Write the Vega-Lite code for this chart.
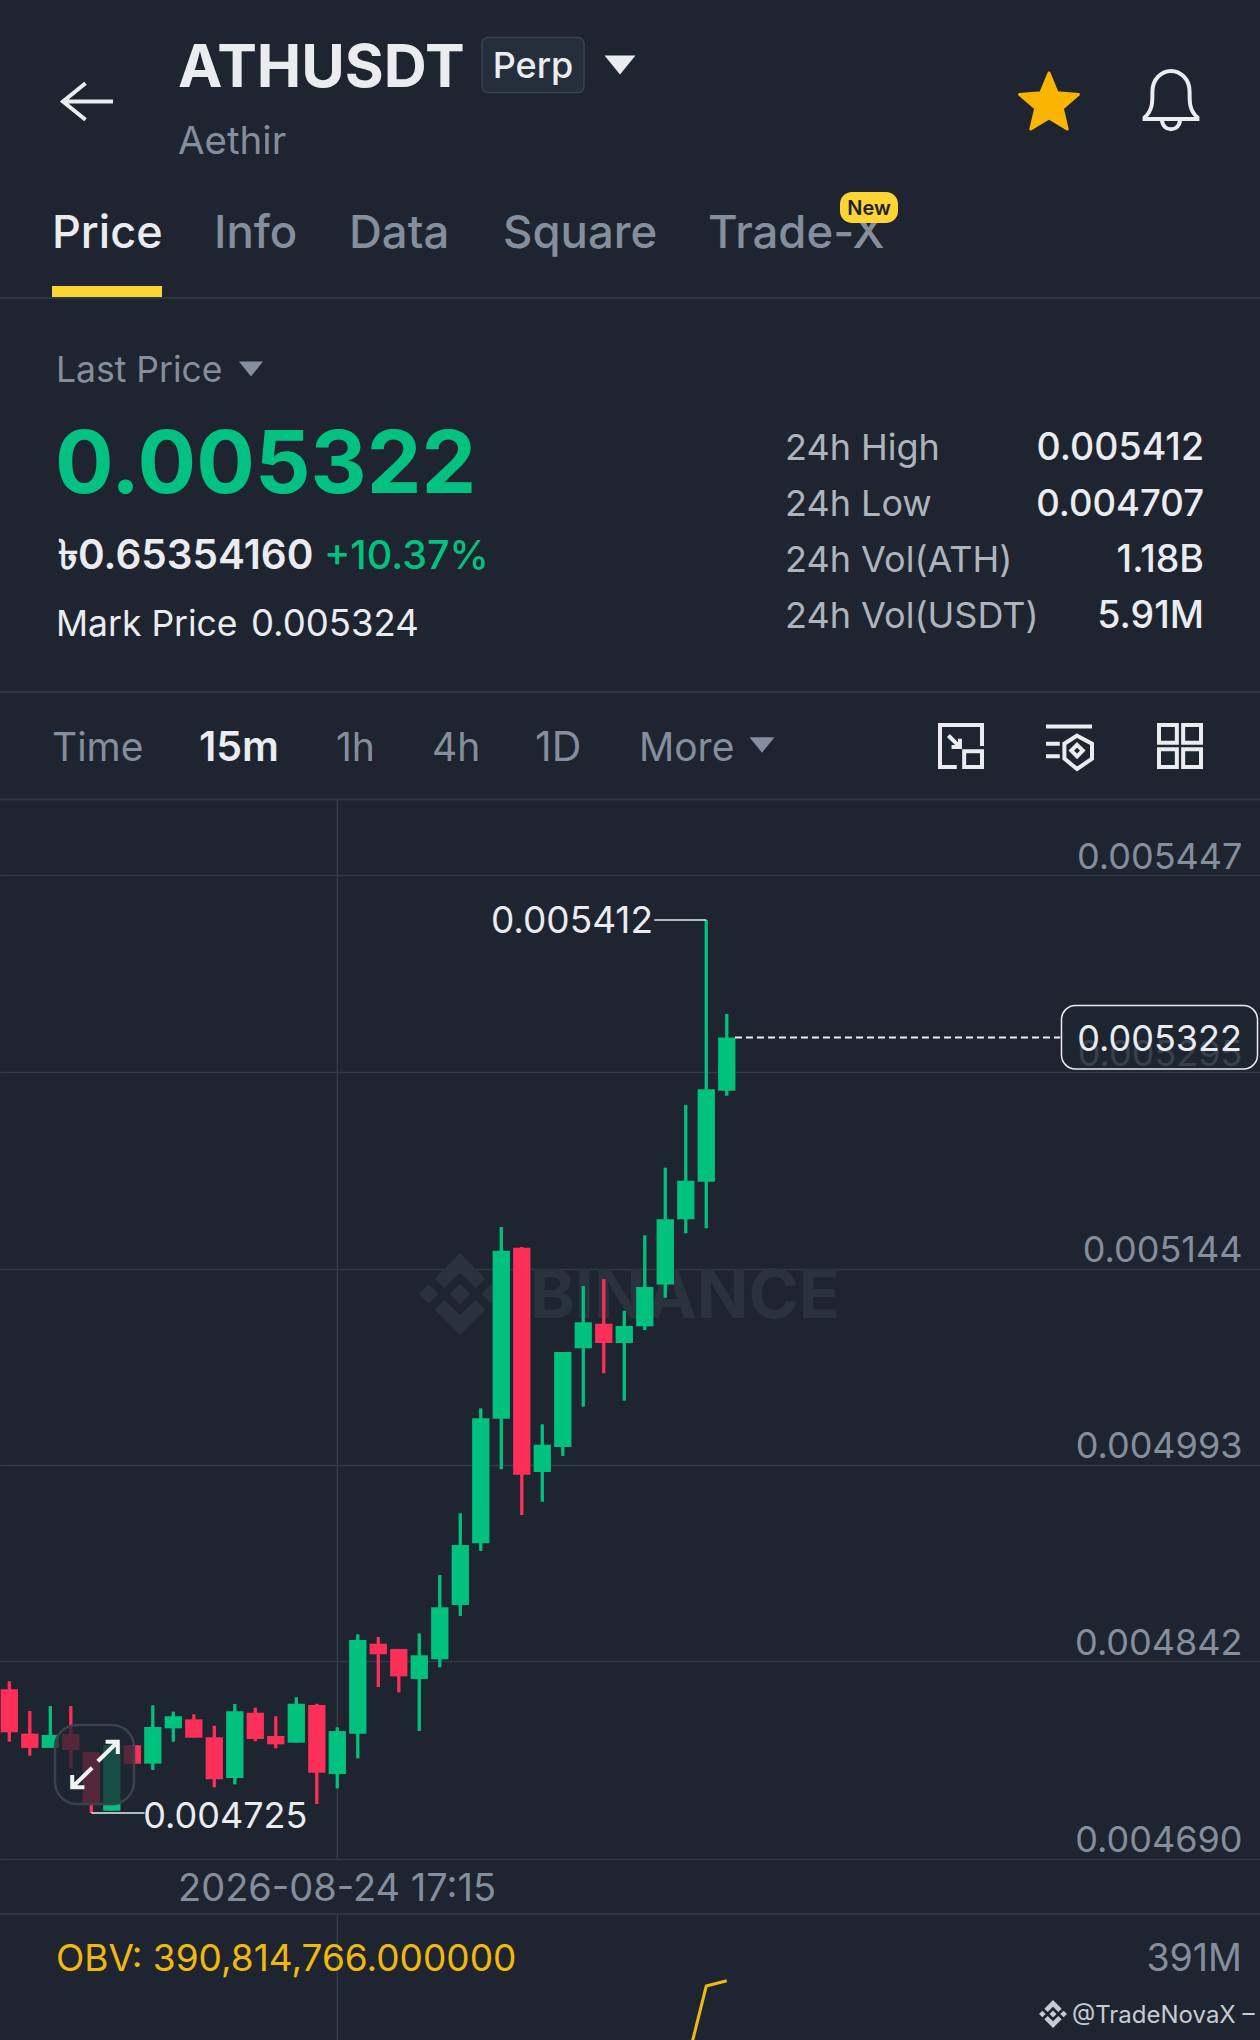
{"$schema":"https://vega.github.io/schema/vega-lite/v6.json","width":1260,"height":2040,"padding":0,"autosize":{"type":"none"},"background":"#1E2530","config":{"view":{"stroke":null}},"datasets":{"candles":[
{"t":"2026-08-24T13:15:00","open":0.0048202,"high":0.0048264,"low":0.0047799,"close":0.0047871,"dir":"down"},
{"t":"2026-08-24T13:30:00","open":0.0047861,"high":0.0048035,"low":0.0047691,"close":0.0047751,"dir":"down"},
{"t":"2026-08-24T13:45:00","open":0.0047751,"high":0.0048074,"low":0.0047751,"close":0.0047851,"dir":"up"},
{"t":"2026-08-24T14:00:00","open":0.0047858,"high":0.0048074,"low":0.0047597,"close":0.0047735,"dir":"down"},
{"t":"2026-08-24T14:15:00","open":0.004772,"high":0.004772,"low":0.004725,"close":0.0047319,"dir":"down"},
{"t":"2026-08-24T14:30:00","open":0.0047268,"high":0.0047804,"low":0.0047268,"close":0.0047774,"dir":"up"},
{"t":"2026-08-24T14:45:00","open":0.0047771,"high":0.0047771,"low":0.004763,"close":0.004763,"dir":"down"},
{"t":"2026-08-24T15:00:00","open":0.004763,"high":0.0048079,"low":0.0047581,"close":0.0047912,"dir":"up"},
{"t":"2026-08-24T15:15:00","open":0.0047902,"high":0.004803,"low":0.0047799,"close":0.0047995,"dir":"up"},
{"t":"2026-08-24T15:30:00","open":0.0047971,"high":0.004801,"low":0.004783,"close":0.004783,"dir":"down"},
{"t":"2026-08-24T15:45:00","open":0.0047833,"high":0.0047922,"low":0.0047448,"close":0.004751,"dir":"down"},
{"t":"2026-08-24T16:00:00","open":0.004752,"high":0.0048089,"low":0.0047471,"close":0.0048033,"dir":"up"},
{"t":"2026-08-24T16:15:00","open":0.0048022,"high":0.0048061,"low":0.0047802,"close":0.004782,"dir":"down"},
{"t":"2026-08-24T16:30:00","open":0.0047843,"high":0.0047995,"low":0.0047748,"close":0.0047779,"dir":"down"},
{"t":"2026-08-24T16:45:00","open":0.0047791,"high":0.0048141,"low":0.0047791,"close":0.0048091,"dir":"up"},
{"t":"2026-08-24T17:00:00","open":0.0048081,"high":0.0048091,"low":0.0047319,"close":0.004756,"dir":"down"},
{"t":"2026-08-24T17:15:00","open":0.004755,"high":0.004791,"low":0.004744,"close":0.0047881,"dir":"up"},
{"t":"2026-08-24T17:30:00","open":0.0047861,"high":0.0048626,"low":0.0047671,"close":0.0048582,"dir":"up"},
{"t":"2026-08-24T17:45:00","open":0.0048553,"high":0.0048605,"low":0.004822,"close":0.0048472,"dir":"down"},
{"t":"2026-08-24T18:00:00","open":0.0048513,"high":0.0048513,"low":0.0048179,"close":0.0048302,"dir":"down"},
{"t":"2026-08-24T18:15:00","open":0.0048282,"high":0.0048633,"low":0.0047881,"close":0.0048464,"dir":"up"},
{"t":"2026-08-24T18:30:00","open":0.0048433,"high":0.0049082,"low":0.0048372,"close":0.0048833,"dir":"up"},
{"t":"2026-08-24T18:45:00","open":0.0048851,"high":0.0049557,"low":0.0048767,"close":0.0049313,"dir":"up"},
{"t":"2026-08-24T19:00:00","open":0.0049326,"high":0.0050365,"low":0.0049267,"close":0.0050288,"dir":"up"},
{"t":"2026-08-24T19:15:00","open":0.0050285,"high":0.0051761,"low":0.0049896,"close":0.0051578,"dir":"up"},
{"t":"2026-08-24T19:30:00","open":0.0051601,"high":0.0051607,"low":0.0049544,"close":0.0049854,"dir":"down"},
{"t":"2026-08-24T19:45:00","open":0.0049875,"high":0.0050242,"low":0.0049646,"close":0.0050085,"dir":"up"},
{"t":"2026-08-24T20:00:00","open":0.0050067,"high":0.0050799,"low":0.0049998,"close":0.0050799,"dir":"up"},
{"t":"2026-08-24T20:15:00","open":0.0050827,"high":0.0051306,"low":0.0050377,"close":0.0051027,"dir":"up"},
{"t":"2026-08-24T20:30:00","open":0.0051016,"high":0.005136,"low":0.0050635,"close":0.0050868,"dir":"down"},
{"t":"2026-08-24T20:45:00","open":0.0050868,"high":0.0051116,"low":0.0050424,"close":0.0050999,"dir":"up"},
{"t":"2026-08-24T21:00:00","open":0.0050996,"high":0.0051697,"low":0.0050968,"close":0.0051299,"dir":"up"},
{"t":"2026-08-24T21:15:00","open":0.0051318,"high":0.0052217,"low":0.0051216,"close":0.005182,"dir":"up"},
{"t":"2026-08-24T21:30:00","open":0.005182,"high":0.00527,"low":0.0051712,"close":0.0052117,"dir":"up"},
{"t":"2026-08-24T21:45:00","open":0.0052109,"high":0.0054124,"low":0.0051751,"close":0.0052821,"dir":"up"},
{"t":"2026-08-24T22:00:00","open":0.005281,"high":0.00534,"low":0.0052771,"close":0.005322,"dir":"up"}
]},"layer":[
{"layer":[
{"data":{"values":[{"part":"watermark"}]},"mark":{"type":"point","shape":"M0 -0.25 L0.25 0 L0 0.25 L-0.25 0Z M0 -1 L0.62 -0.38 L0.38 -0.14 L0 -0.52 L-0.38 -0.14 L-0.62 -0.38Z M0 1 L0.62 0.38 L0.38 0.14 L0 0.52 L-0.38 0.14 L-0.62 0.38Z M-1 0 L-0.76 -0.24 L-0.52 0 L-0.76 0.24Z M1 0 L0.76 -0.24 L0.52 0 L0.76 0.24Z","size":6724,"filled":true,"color":"#2A323E","opacity":1},"encoding":{"x":{"datum":460,"type":"quantitative","scale":{"domain":[0,1260],"nice":false,"zero":false},"axis":null},"y":{"datum":1294,"type":"quantitative","scale":{"domain":[0,2040],"reverse":true,"nice":false,"zero":false},"axis":null}}},
{"data":{"values":[{"label":"BINANCE"}]},"mark":{"type":"text","font":"Inter","fontSize":68,"fontWeight":700,"color":"#2A323E","align":"left","baseline":"alphabetic"},"encoding":{"x":{"datum":530,"type":"quantitative","scale":{"domain":[0,1260],"nice":false,"zero":false},"axis":null},"y":{"datum":1318,"type":"quantitative","scale":{"domain":[0,2040],"reverse":true,"nice":false,"zero":false},"axis":null},"text":{"field":"label"}}},
{"data":{"values":[{"part":"divider"}]},"mark":{"type":"rule","color":"#2E3643","strokeWidth":2},"encoding":{"x":{"datum":0,"type":"quantitative","scale":{"domain":[0,1260],"nice":false,"zero":false},"axis":null},"x2":{"datum":1260},"y":{"datum":298,"type":"quantitative","scale":{"domain":[0,2040],"reverse":true,"nice":false,"zero":false},"axis":null}}},
{"data":{"values":[{"part":"divider"}]},"mark":{"type":"rule","color":"#2E3643","strokeWidth":2},"encoding":{"x":{"datum":0,"type":"quantitative","scale":{"domain":[0,1260],"nice":false,"zero":false},"axis":null},"x2":{"datum":1260},"y":{"datum":692,"type":"quantitative","scale":{"domain":[0,2040],"reverse":true,"nice":false,"zero":false},"axis":null}}},
{"data":{"values":[{"part":"divider"}]},"mark":{"type":"rule","color":"#2E3643","strokeWidth":2},"encoding":{"x":{"datum":0,"type":"quantitative","scale":{"domain":[0,1260],"nice":false,"zero":false},"axis":null},"x2":{"datum":1260},"y":{"datum":799.5,"type":"quantitative","scale":{"domain":[0,2040],"reverse":true,"nice":false,"zero":false},"axis":null}}},
{"data":{"values":[{"part":"divider"}]},"mark":{"type":"rule","color":"#2E3643","strokeWidth":2},"encoding":{"x":{"datum":0,"type":"quantitative","scale":{"domain":[0,1260],"nice":false,"zero":false},"axis":null},"x2":{"datum":1260},"y":{"datum":1914,"type":"quantitative","scale":{"domain":[0,2040],"reverse":true,"nice":false,"zero":false},"axis":null}}},
{"data":{"values":[{"part":"divider"}]},"mark":{"type":"rule","color":"#333A46","strokeWidth":1.5},"encoding":{"x":{"datum":337.3,"type":"quantitative","scale":{"domain":[0,1260],"nice":false,"zero":false},"axis":null},"y":{"datum":1915,"type":"quantitative","scale":{"domain":[0,2040],"reverse":true,"nice":false,"zero":false},"axis":null},"y2":{"datum":2040}}}
]},
{"layer":[
{"data":{"values":[{"t":"2026-08-24T17:15:00","p0":0.00469,"p1":0.005505}],"format":{"parse":{"t":"date"}}},"mark":{"type":"rule","color":"#333A46","strokeWidth":1.5},"encoding":{"x":{"field":"t","type":"temporal","title":null,"axis":null,"scale":{"domain":["2026-08-24T13:08:11","2026-08-25T04:30:12"],"nice":false,"padding":0}},"y":{"field":"p0","type":"quantitative","title":null,"scale":{"domain":[0.00469,0.005447],"range":[1858.5,875],"nice":false,"zero":false},"axis":{"orient":"right","values":[0.005447,0.005295,0.005144,0.004993,0.004842,0.00469],"format":".6f","domain":false,"ticks":false,"grid":true,"gridColor":"#333A46","gridWidth":1.5,"labelFont":"Inter","labelFontSize":36,"labelColor":"#848E9C","labelAlign":"right","labelBaseline":"alphabetic","labelPadding":-18,"labelOffset":-7,"labelOverlap":false,"labelFlush":false,"title":null}},"y2":{"field":"p1"}}},
{"data":{"name":"candles"},"mark":{"type":"rule","strokeWidth":3.3},"encoding":{"x":{"field":"t","type":"temporal","axis":null,"title":null},"y":{"field":"low","type":"quantitative","title":null},"y2":{"field":"high"},"color":{"field":"dir","type":"nominal","scale":{"domain":["up","down"],"range":["#01C17F","#FB2F58"]},"legend":null}}},
{"data":{"name":"candles"},"mark":{"type":"bar","size":17.3},"encoding":{"x":{"field":"t","type":"temporal","axis":null,"title":null,"scale":{"padding":0}},"y":{"field":"open","type":"quantitative","title":null},"y2":{"field":"close"},"color":{"field":"dir","type":"nominal","legend":null}}},
{"data":{"values":[{"t":"2026-08-24T21:45:00","t1":"2026-08-24T21:07:00","p":0.0054124}],"format":{"parse":{"t":"date","t1":"date"}}},"mark":{"type":"rule","color":"#EAECEF","strokeWidth":1.5},"encoding":{"x":{"field":"t","type":"temporal","axis":null,"title":null},"x2":{"field":"t1"},"y":{"field":"p","type":"quantitative","title":null}}},
{"data":{"values":[{"t":"2026-08-24T21:06:00","p":0.0054124,"label":"0.005412"}],"format":{"parse":{"t":"date"}}},"mark":{"type":"text","font":"Inter","fontSize":37,"color":"#EAECEF","align":"right","baseline":"middle","dy":2},"encoding":{"x":{"field":"t","type":"temporal","axis":null,"title":null},"y":{"field":"p","type":"quantitative","title":null},"text":{"field":"label"}}},
{"data":{"values":[{"t":"2026-08-24T14:15:00","t1":"2026-08-24T14:54:00","p":0.004725}],"format":{"parse":{"t":"date","t1":"date"}}},"mark":{"type":"rule","color":"#EAECEF","strokeWidth":1.5},"encoding":{"x":{"field":"t","type":"temporal","axis":null,"title":null},"x2":{"field":"t1"},"y":{"field":"p","type":"quantitative","title":null}}},
{"data":{"values":[{"t":"2026-08-24T14:53:00","p":0.004725,"label":"0.004725"}],"format":{"parse":{"t":"date"}}},"mark":{"type":"text","font":"Inter","fontSize":36,"color":"#EAECEF","align":"left","baseline":"middle","dy":4},"encoding":{"x":{"field":"t","type":"temporal","axis":null,"title":null},"y":{"field":"p","type":"quantitative","title":null},"text":{"field":"label"}}},
{"data":{"values":[{"t":"2026-08-24T22:06:00","t1":"2026-08-25T02:04:00","p":0.005322}],"format":{"parse":{"t":"date","t1":"date"}}},"mark":{"type":"rule","color":"#EAECEF","strokeWidth":2,"strokeDash":[7,4]},"encoding":{"x":{"field":"t","type":"temporal","axis":null,"title":null},"x2":{"field":"t1"},"y":{"field":"p","type":"quantitative","title":null}}}
]},
{"data":{"values":[{"t":"2026-08-24T21:30:00","obv":303500000},{"t":"2026-08-24T21:45:00","obv":385500000},{"t":"2026-08-24T22:00:00","obv":390814766}]},"mark":{"type":"line","color":"#F0B90B","strokeWidth":3,"clip":false},"encoding":{"x":{"field":"t","type":"temporal","axis":null,"title":null,"scale":{"domain":["2026-08-24T13:08:11","2026-08-25T04:30:12"],"nice":false}},"y":{"field":"obv","type":"quantitative","axis":null,"title":null,"scale":{"domain":[303500000,390814766],"range":[2068,1980.7],"nice":false,"zero":false}}}},
{"layer":[
{"data":{"values":[{"part":"expand button"}]},"mark":{"type":"rect","fill":"#1E2530","fillOpacity":0.75,"stroke":"#3A424E","strokeWidth":2.5,"cornerRadius":22},"encoding":{"x":{"datum":55,"type":"quantitative","scale":{"domain":[0,1260],"nice":false,"zero":false},"axis":null},"x2":{"datum":134},"y":{"datum":1725,"type":"quantitative","scale":{"domain":[0,2040],"reverse":true,"nice":false,"zero":false},"axis":null},"y2":{"datum":1804}}},
{"data":{"values":[{"part":"expand arrows"}]},"mark":{"type":"point","shape":"M0.12 -0.14 L0.97 -0.97 M0.45 -0.97 L0.97 -0.97 L0.97 -0.45 M-0.12 0.14 L-0.97 0.97 M-0.45 0.97 L-0.97 0.97 L-0.97 0.45","size":2209,"filled":false,"stroke":"#F2F3F5","strokeWidth":4,"opacity":1},"encoding":{"x":{"datum":95,"type":"quantitative","scale":{"domain":[0,1260],"nice":false,"zero":false},"axis":null},"y":{"datum":1764.5,"type":"quantitative","scale":{"domain":[0,2040],"reverse":true,"nice":false,"zero":false},"axis":null}}},
{"data":{"values":[{"part":"pill"}]},"mark":{"type":"rect","fill":"#1E2530","fillOpacity":0.75,"stroke":"#EAECEF","strokeWidth":1.5,"cornerRadius":14},"encoding":{"x":{"datum":1061.5,"type":"quantitative","scale":{"domain":[0,1260],"nice":false,"zero":false},"axis":null},"x2":{"datum":1257.5},"y":{"datum":1005.5,"type":"quantitative","scale":{"domain":[0,2040],"reverse":true,"nice":false,"zero":false},"axis":null},"y2":{"datum":1069}}},
{"data":{"values":[{"label":"0.005322"}]},"mark":{"type":"text","font":"Inter","fontSize":36,"color":"#EAECEF","align":"right","baseline":"alphabetic"},"encoding":{"x":{"datum":1242,"type":"quantitative","scale":{"domain":[0,1260],"nice":false,"zero":false},"axis":null},"y":{"datum":1051,"type":"quantitative","scale":{"domain":[0,2040],"reverse":true,"nice":false,"zero":false},"axis":null},"text":{"field":"label"}}},
{"data":{"values":[{"part":"back"}]},"mark":{"type":"point","shape":"M1 0 L-1 0 M-0.1 -0.73 L-1 0 L-0.1 0.73","size":2500,"filled":false,"stroke":"#EAECEF","strokeWidth":4,"opacity":1},"encoding":{"x":{"datum":88,"type":"quantitative","scale":{"domain":[0,1260],"nice":false,"zero":false},"axis":null},"y":{"datum":101.5,"type":"quantitative","scale":{"domain":[0,2040],"reverse":true,"nice":false,"zero":false},"axis":null}}},
{"data":{"values":[{"label":"ATHUSDT"}]},"mark":{"type":"text","font":"Inter","fontSize":59.5,"fontWeight":700,"color":"#EAECEF","align":"left","baseline":"alphabetic"},"encoding":{"x":{"datum":178,"type":"quantitative","scale":{"domain":[0,1260],"nice":false,"zero":false},"axis":null},"y":{"datum":87,"type":"quantitative","scale":{"domain":[0,2040],"reverse":true,"nice":false,"zero":false},"axis":null},"text":{"field":"label"}}},
{"data":{"values":[{"part":"badge"}]},"mark":{"type":"rect","fill":"#252E3B","stroke":"#39424F","strokeWidth":1.5,"cornerRadius":6},"encoding":{"x":{"datum":482,"type":"quantitative","scale":{"domain":[0,1260],"nice":false,"zero":false},"axis":null},"x2":{"datum":584},"y":{"datum":37.5,"type":"quantitative","scale":{"domain":[0,2040],"reverse":true,"nice":false,"zero":false},"axis":null},"y2":{"datum":92.5}}},
{"data":{"values":[{"label":"Perp"}]},"mark":{"type":"text","font":"Inter","fontSize":36,"fontWeight":500,"color":"#EAECEF","align":"center","baseline":"alphabetic"},"encoding":{"x":{"datum":533,"type":"quantitative","scale":{"domain":[0,1260],"nice":false,"zero":false},"axis":null},"y":{"datum":78,"type":"quantitative","scale":{"domain":[0,2040],"reverse":true,"nice":false,"zero":false},"axis":null},"text":{"field":"label"}}},
{"data":{"values":[{"part":"caret"}]},"mark":{"type":"point","shape":"M-1 -0.62 L1 -0.62 L0 0.62Z","size":961,"filled":true,"color":"#EAECEF","opacity":1},"encoding":{"x":{"datum":620,"type":"quantitative","scale":{"domain":[0,1260],"nice":false,"zero":false},"axis":null},"y":{"datum":65,"type":"quantitative","scale":{"domain":[0,2040],"reverse":true,"nice":false,"zero":false},"axis":null}}},
{"data":{"values":[{"label":"Aethir"}]},"mark":{"type":"text","font":"Inter","fontSize":38.5,"color":"#848E9C","align":"left","baseline":"alphabetic"},"encoding":{"x":{"datum":178,"type":"quantitative","scale":{"domain":[0,1260],"nice":false,"zero":false},"axis":null},"y":{"datum":154,"type":"quantitative","scale":{"domain":[0,2040],"reverse":true,"nice":false,"zero":false},"axis":null},"text":{"field":"label"}}},
{"data":{"values":[{"part":"star"}]},"mark":{"type":"point","shape":"M0 -1 L0.265 -0.364 L0.951 -0.309 L0.428 0.139 L0.588 0.809 L0 0.45 L-0.588 0.809 L-0.428 0.139 L-0.951 -0.309 L-0.265 -0.364Z","size":3844,"filled":true,"fill":"#FBB500","stroke":"#FBB500","strokeWidth":3,"strokeJoin":"round","opacity":1},"encoding":{"x":{"datum":1049,"type":"quantitative","scale":{"domain":[0,1260],"nice":false,"zero":false},"axis":null},"y":{"datum":104,"type":"quantitative","scale":{"domain":[0,2040],"reverse":true,"nice":false,"zero":false},"axis":null}}},
{"data":{"values":[{"part":"bell"}]},"mark":{"type":"point","shape":"M-0.88 0.55 C-0.6 0.3 -0.62 0 -0.62 -0.3 C-0.62 -0.75 -0.3 -1 0 -1 C0.3 -1 0.62 -0.75 0.62 -0.3 C0.62 0 0.6 0.3 0.88 0.55 L0.88 0.6 L-0.88 0.6Z M-0.3 0.62 C-0.3 1.05 0.3 1.05 0.3 0.62","size":3600,"filled":false,"stroke":"#EAECEF","strokeWidth":4,"opacity":1},"encoding":{"x":{"datum":1171,"type":"quantitative","scale":{"domain":[0,1260],"nice":false,"zero":false},"axis":null},"y":{"datum":101,"type":"quantitative","scale":{"domain":[0,2040],"reverse":true,"nice":false,"zero":false},"axis":null}}},
{"data":{"values":[{"label":"Price"}]},"mark":{"type":"text","font":"Inter","fontSize":45,"fontWeight":500,"color":"#EAECEF","align":"left","baseline":"alphabetic"},"encoding":{"x":{"datum":52,"type":"quantitative","scale":{"domain":[0,1260],"nice":false,"zero":false},"axis":null},"y":{"datum":248,"type":"quantitative","scale":{"domain":[0,2040],"reverse":true,"nice":false,"zero":false},"axis":null},"text":{"field":"label"}}},
{"data":{"values":[{"label":"Info"}]},"mark":{"type":"text","font":"Inter","fontSize":45.5,"fontWeight":500,"color":"#848E9C","align":"left","baseline":"alphabetic"},"encoding":{"x":{"datum":214,"type":"quantitative","scale":{"domain":[0,1260],"nice":false,"zero":false},"axis":null},"y":{"datum":248,"type":"quantitative","scale":{"domain":[0,2040],"reverse":true,"nice":false,"zero":false},"axis":null},"text":{"field":"label"}}},
{"data":{"values":[{"label":"Data"}]},"mark":{"type":"text","font":"Inter","fontSize":45.5,"fontWeight":500,"color":"#848E9C","align":"left","baseline":"alphabetic"},"encoding":{"x":{"datum":349,"type":"quantitative","scale":{"domain":[0,1260],"nice":false,"zero":false},"axis":null},"y":{"datum":248,"type":"quantitative","scale":{"domain":[0,2040],"reverse":true,"nice":false,"zero":false},"axis":null},"text":{"field":"label"}}},
{"data":{"values":[{"label":"Square"}]},"mark":{"type":"text","font":"Inter","fontSize":45.5,"fontWeight":500,"color":"#848E9C","align":"left","baseline":"alphabetic"},"encoding":{"x":{"datum":503,"type":"quantitative","scale":{"domain":[0,1260],"nice":false,"zero":false},"axis":null},"y":{"datum":248,"type":"quantitative","scale":{"domain":[0,2040],"reverse":true,"nice":false,"zero":false},"axis":null},"text":{"field":"label"}}},
{"data":{"values":[{"label":"Trade-X"}]},"mark":{"type":"text","font":"Inter","fontSize":45.5,"fontWeight":500,"color":"#848E9C","align":"left","baseline":"alphabetic"},"encoding":{"x":{"datum":708,"type":"quantitative","scale":{"domain":[0,1260],"nice":false,"zero":false},"axis":null},"y":{"datum":248,"type":"quantitative","scale":{"domain":[0,2040],"reverse":true,"nice":false,"zero":false},"axis":null},"text":{"field":"label"}}},
{"data":{"values":[{"part":"new badge"}]},"mark":{"type":"rect","fill":"#FCD535","cornerRadius":12},"encoding":{"x":{"datum":840,"type":"quantitative","scale":{"domain":[0,1260],"nice":false,"zero":false},"axis":null},"x2":{"datum":898},"y":{"datum":192,"type":"quantitative","scale":{"domain":[0,2040],"reverse":true,"nice":false,"zero":false},"axis":null},"y2":{"datum":223}}},
{"data":{"values":[{"label":"New"}]},"mark":{"type":"text","font":"Inter","fontSize":20,"fontWeight":600,"color":"#1E2329","align":"center","baseline":"alphabetic"},"encoding":{"x":{"datum":869,"type":"quantitative","scale":{"domain":[0,1260],"nice":false,"zero":false},"axis":null},"y":{"datum":215,"type":"quantitative","scale":{"domain":[0,2040],"reverse":true,"nice":false,"zero":false},"axis":null},"text":{"field":"label"}}},
{"data":{"values":[{"part":"tab underline"}]},"mark":{"type":"rect","fill":"#FCD535"},"encoding":{"x":{"datum":52,"type":"quantitative","scale":{"domain":[0,1260],"nice":false,"zero":false},"axis":null},"x2":{"datum":162},"y":{"datum":286,"type":"quantitative","scale":{"domain":[0,2040],"reverse":true,"nice":false,"zero":false},"axis":null},"y2":{"datum":297}}},
{"data":{"values":[{"label":"Last Price"}]},"mark":{"type":"text","font":"Inter","fontSize":35.5,"color":"#848E9C","align":"left","baseline":"alphabetic"},"encoding":{"x":{"datum":56,"type":"quantitative","scale":{"domain":[0,1260],"nice":false,"zero":false},"axis":null},"y":{"datum":382,"type":"quantitative","scale":{"domain":[0,2040],"reverse":true,"nice":false,"zero":false},"axis":null},"text":{"field":"label"}}},
{"data":{"values":[{"part":"caret"}]},"mark":{"type":"point","shape":"M-1 -0.62 L1 -0.62 L0 0.62Z","size":576,"filled":true,"color":"#848E9C","opacity":1},"encoding":{"x":{"datum":251,"type":"quantitative","scale":{"domain":[0,1260],"nice":false,"zero":false},"axis":null},"y":{"datum":369,"type":"quantitative","scale":{"domain":[0,2040],"reverse":true,"nice":false,"zero":false},"axis":null}}},
{"data":{"values":[{"label":"0.005322"}]},"mark":{"type":"text","font":"Inter","fontSize":87,"fontWeight":700,"color":"#03C180","align":"left","baseline":"alphabetic"},"encoding":{"x":{"datum":55,"type":"quantitative","scale":{"domain":[0,1260],"nice":false,"zero":false},"axis":null},"y":{"datum":493,"type":"quantitative","scale":{"domain":[0,2040],"reverse":true,"nice":false,"zero":false},"axis":null},"text":{"field":"label"}}},
{"data":{"values":[{"label":"৳0.65354160"}]},"mark":{"type":"text","font":"Inter","fontSize":40.5,"fontWeight":600,"color":"#EAECEF","align":"left","baseline":"alphabetic"},"encoding":{"x":{"datum":58,"type":"quantitative","scale":{"domain":[0,1260],"nice":false,"zero":false},"axis":null},"y":{"datum":569,"type":"quantitative","scale":{"domain":[0,2040],"reverse":true,"nice":false,"zero":false},"axis":null},"text":{"field":"label"}}},
{"data":{"values":[{"label":"+10.37%"}]},"mark":{"type":"text","font":"Inter","fontSize":39.5,"fontWeight":500,"color":"#03C180","align":"left","baseline":"alphabetic"},"encoding":{"x":{"datum":324,"type":"quantitative","scale":{"domain":[0,1260],"nice":false,"zero":false},"axis":null},"y":{"datum":569,"type":"quantitative","scale":{"domain":[0,2040],"reverse":true,"nice":false,"zero":false},"axis":null},"text":{"field":"label"}}},
{"data":{"values":[{"label":"Mark Price"}]},"mark":{"type":"text","font":"Inter","fontSize":35.5,"color":"#EAECEF","align":"left","baseline":"alphabetic"},"encoding":{"x":{"datum":56,"type":"quantitative","scale":{"domain":[0,1260],"nice":false,"zero":false},"axis":null},"y":{"datum":636,"type":"quantitative","scale":{"domain":[0,2040],"reverse":true,"nice":false,"zero":false},"axis":null},"text":{"field":"label"}}},
{"data":{"values":[{"label":"0.005324"}]},"mark":{"type":"text","font":"Inter","fontSize":36.5,"color":"#EAECEF","align":"left","baseline":"alphabetic"},"encoding":{"x":{"datum":251,"type":"quantitative","scale":{"domain":[0,1260],"nice":false,"zero":false},"axis":null},"y":{"datum":636,"type":"quantitative","scale":{"domain":[0,2040],"reverse":true,"nice":false,"zero":false},"axis":null},"text":{"field":"label"}}},
{"data":{"values":[{"label":"24h High"}]},"mark":{"type":"text","font":"Inter","fontSize":36,"color":"#AEB4BC","align":"left","baseline":"alphabetic"},"encoding":{"x":{"datum":785,"type":"quantitative","scale":{"domain":[0,1260],"nice":false,"zero":false},"axis":null},"y":{"datum":460,"type":"quantitative","scale":{"domain":[0,2040],"reverse":true,"nice":false,"zero":false},"axis":null},"text":{"field":"label"}}},
{"data":{"values":[{"label":"24h Low"}]},"mark":{"type":"text","font":"Inter","fontSize":36,"color":"#AEB4BC","align":"left","baseline":"alphabetic"},"encoding":{"x":{"datum":785,"type":"quantitative","scale":{"domain":[0,1260],"nice":false,"zero":false},"axis":null},"y":{"datum":516,"type":"quantitative","scale":{"domain":[0,2040],"reverse":true,"nice":false,"zero":false},"axis":null},"text":{"field":"label"}}},
{"data":{"values":[{"label":"24h Vol(ATH)"}]},"mark":{"type":"text","font":"Inter","fontSize":36,"color":"#AEB4BC","align":"left","baseline":"alphabetic"},"encoding":{"x":{"datum":785,"type":"quantitative","scale":{"domain":[0,1260],"nice":false,"zero":false},"axis":null},"y":{"datum":572,"type":"quantitative","scale":{"domain":[0,2040],"reverse":true,"nice":false,"zero":false},"axis":null},"text":{"field":"label"}}},
{"data":{"values":[{"label":"24h Vol(USDT)"}]},"mark":{"type":"text","font":"Inter","fontSize":36,"color":"#AEB4BC","align":"left","baseline":"alphabetic"},"encoding":{"x":{"datum":785,"type":"quantitative","scale":{"domain":[0,1260],"nice":false,"zero":false},"axis":null},"y":{"datum":628,"type":"quantitative","scale":{"domain":[0,2040],"reverse":true,"nice":false,"zero":false},"axis":null},"text":{"field":"label"}}},
{"data":{"values":[{"label":"0.005412"}]},"mark":{"type":"text","font":"Inter","fontSize":37.5,"fontWeight":500,"color":"#EAECEF","align":"right","baseline":"alphabetic"},"encoding":{"x":{"datum":1204,"type":"quantitative","scale":{"domain":[0,1260],"nice":false,"zero":false},"axis":null},"y":{"datum":460,"type":"quantitative","scale":{"domain":[0,2040],"reverse":true,"nice":false,"zero":false},"axis":null},"text":{"field":"label"}}},
{"data":{"values":[{"label":"0.004707"}]},"mark":{"type":"text","font":"Inter","fontSize":36.5,"fontWeight":500,"color":"#EAECEF","align":"right","baseline":"alphabetic"},"encoding":{"x":{"datum":1204,"type":"quantitative","scale":{"domain":[0,1260],"nice":false,"zero":false},"axis":null},"y":{"datum":516,"type":"quantitative","scale":{"domain":[0,2040],"reverse":true,"nice":false,"zero":false},"axis":null},"text":{"field":"label"}}},
{"data":{"values":[{"label":"1.18B"}]},"mark":{"type":"text","font":"Inter","fontSize":37.5,"fontWeight":500,"color":"#EAECEF","align":"right","baseline":"alphabetic"},"encoding":{"x":{"datum":1204,"type":"quantitative","scale":{"domain":[0,1260],"nice":false,"zero":false},"axis":null},"y":{"datum":572,"type":"quantitative","scale":{"domain":[0,2040],"reverse":true,"nice":false,"zero":false},"axis":null},"text":{"field":"label"}}},
{"data":{"values":[{"label":"5.91M"}]},"mark":{"type":"text","font":"Inter","fontSize":37.5,"fontWeight":500,"color":"#EAECEF","align":"right","baseline":"alphabetic"},"encoding":{"x":{"datum":1204,"type":"quantitative","scale":{"domain":[0,1260],"nice":false,"zero":false},"axis":null},"y":{"datum":628,"type":"quantitative","scale":{"domain":[0,2040],"reverse":true,"nice":false,"zero":false},"axis":null},"text":{"field":"label"}}},
{"data":{"values":[{"label":"Time"}]},"mark":{"type":"text","font":"Inter","fontSize":39,"color":"#848E9C","align":"left","baseline":"alphabetic"},"encoding":{"x":{"datum":52,"type":"quantitative","scale":{"domain":[0,1260],"nice":false,"zero":false},"axis":null},"y":{"datum":761,"type":"quantitative","scale":{"domain":[0,2040],"reverse":true,"nice":false,"zero":false},"axis":null},"text":{"field":"label"}}},
{"data":{"values":[{"label":"15m"}]},"mark":{"type":"text","font":"Inter","fontSize":41,"fontWeight":600,"color":"#EAECEF","align":"left","baseline":"alphabetic"},"encoding":{"x":{"datum":199,"type":"quantitative","scale":{"domain":[0,1260],"nice":false,"zero":false},"axis":null},"y":{"datum":761,"type":"quantitative","scale":{"domain":[0,2040],"reverse":true,"nice":false,"zero":false},"axis":null},"text":{"field":"label"}}},
{"data":{"values":[{"label":"1h"}]},"mark":{"type":"text","font":"Inter","fontSize":39,"color":"#848E9C","align":"left","baseline":"alphabetic"},"encoding":{"x":{"datum":336,"type":"quantitative","scale":{"domain":[0,1260],"nice":false,"zero":false},"axis":null},"y":{"datum":761,"type":"quantitative","scale":{"domain":[0,2040],"reverse":true,"nice":false,"zero":false},"axis":null},"text":{"field":"label"}}},
{"data":{"values":[{"label":"4h"}]},"mark":{"type":"text","font":"Inter","fontSize":39,"color":"#848E9C","align":"left","baseline":"alphabetic"},"encoding":{"x":{"datum":432,"type":"quantitative","scale":{"domain":[0,1260],"nice":false,"zero":false},"axis":null},"y":{"datum":761,"type":"quantitative","scale":{"domain":[0,2040],"reverse":true,"nice":false,"zero":false},"axis":null},"text":{"field":"label"}}},
{"data":{"values":[{"label":"1D"}]},"mark":{"type":"text","font":"Inter","fontSize":41,"color":"#848E9C","align":"left","baseline":"alphabetic"},"encoding":{"x":{"datum":535,"type":"quantitative","scale":{"domain":[0,1260],"nice":false,"zero":false},"axis":null},"y":{"datum":761,"type":"quantitative","scale":{"domain":[0,2040],"reverse":true,"nice":false,"zero":false},"axis":null},"text":{"field":"label"}}},
{"data":{"values":[{"label":"More"}]},"mark":{"type":"text","font":"Inter","fontSize":39,"color":"#848E9C","align":"left","baseline":"alphabetic"},"encoding":{"x":{"datum":639,"type":"quantitative","scale":{"domain":[0,1260],"nice":false,"zero":false},"axis":null},"y":{"datum":761,"type":"quantitative","scale":{"domain":[0,2040],"reverse":true,"nice":false,"zero":false},"axis":null},"text":{"field":"label"}}},
{"data":{"values":[{"part":"caret"}]},"mark":{"type":"point","shape":"M-1 -0.62 L1 -0.62 L0 0.62Z","size":625,"filled":true,"color":"#848E9C","opacity":1},"encoding":{"x":{"datum":762,"type":"quantitative","scale":{"domain":[0,1260],"nice":false,"zero":false},"axis":null},"y":{"datum":745,"type":"quantitative","scale":{"domain":[0,2040],"reverse":true,"nice":false,"zero":false},"axis":null}}},
{"data":{"values":[{"part":"fullscreen icon"}]},"mark":{"type":"point","shape":"M-0.2 1 L-1 1 L-1 -1 L1 -1 L1 0 M0.15 0.25 H1 V1 H0.15Z M-0.6 -0.5 L-0.05 0.05 M-0.05 -0.35 L-0.05 0.05 L-0.45 0.05","size":1764,"filled":false,"stroke":"#EAECEF","strokeWidth":4,"opacity":1},"encoding":{"x":{"datum":961,"type":"quantitative","scale":{"domain":[0,1260],"nice":false,"zero":false},"axis":null},"y":{"datum":746,"type":"quantitative","scale":{"domain":[0,2040],"reverse":true,"nice":false,"zero":false},"axis":null}}},
{"data":{"values":[{"part":"settings icon"}]},"mark":{"type":"point","shape":"M-1 -0.85 L1 -0.85 M-1 -0.1 L-0.4 -0.1 M-1 0.45 L-0.4 0.45 M0.35 -0.45 L1 -0.1 L1 0.55 L0.35 1 L-0.2 0.55 L-0.2 -0.1Z M0.35 -0.05 L0.6 0.2 L0.35 0.45 L0.1 0.2Z","size":2116,"filled":false,"stroke":"#EAECEF","strokeWidth":4,"opacity":1},"encoding":{"x":{"datum":1069,"type":"quantitative","scale":{"domain":[0,1260],"nice":false,"zero":false},"axis":null},"y":{"datum":746,"type":"quantitative","scale":{"domain":[0,2040],"reverse":true,"nice":false,"zero":false},"axis":null}}},
{"data":{"values":[{"part":"grid icon"}]},"mark":{"type":"point","shape":"M-1 -1 H-0.15 V-0.15 H-1Z M0.15 -1 H1 V-0.15 H0.15Z M-1 0.15 H-0.15 V1 H-1Z M0.15 0.15 H1 V1 H0.15Z","size":1764,"filled":false,"stroke":"#EAECEF","strokeWidth":4,"opacity":1},"encoding":{"x":{"datum":1180,"type":"quantitative","scale":{"domain":[0,1260],"nice":false,"zero":false},"axis":null},"y":{"datum":746,"type":"quantitative","scale":{"domain":[0,2040],"reverse":true,"nice":false,"zero":false},"axis":null}}},
{"data":{"values":[{"label":"2026-08-24 17:15"}]},"mark":{"type":"text","font":"Inter","fontSize":38,"color":"#848E9C","align":"center","baseline":"alphabetic"},"encoding":{"x":{"datum":337,"type":"quantitative","scale":{"domain":[0,1260],"nice":false,"zero":false},"axis":null},"y":{"datum":1901,"type":"quantitative","scale":{"domain":[0,2040],"reverse":true,"nice":false,"zero":false},"axis":null},"text":{"field":"label"}}},
{"data":{"values":[{"label":"OBV: 390,814,766.000000"}]},"mark":{"type":"text","font":"Inter","fontSize":37,"color":"#F0B90B","align":"left","baseline":"alphabetic"},"encoding":{"x":{"datum":56,"type":"quantitative","scale":{"domain":[0,1260],"nice":false,"zero":false},"axis":null},"y":{"datum":1971,"type":"quantitative","scale":{"domain":[0,2040],"reverse":true,"nice":false,"zero":false},"axis":null},"text":{"field":"label"}}},
{"data":{"values":[{"label":"391M"}]},"mark":{"type":"text","font":"Inter","fontSize":37.5,"color":"#848E9C","align":"right","baseline":"alphabetic"},"encoding":{"x":{"datum":1242,"type":"quantitative","scale":{"domain":[0,1260],"nice":false,"zero":false},"axis":null},"y":{"datum":1971,"type":"quantitative","scale":{"domain":[0,2040],"reverse":true,"nice":false,"zero":false},"axis":null},"text":{"field":"label"}}},
{"data":{"values":[{"part":"small logo"}]},"mark":{"type":"point","shape":"M0 -0.25 L0.25 0 L0 0.25 L-0.25 0Z M0 -1 L0.62 -0.38 L0.38 -0.14 L0 -0.52 L-0.38 -0.14 L-0.62 -0.38Z M0 1 L0.62 0.38 L0.38 0.14 L0 0.52 L-0.38 0.14 L-0.62 0.38Z M-1 0 L-0.76 -0.24 L-0.52 0 L-0.76 0.24Z M1 0 L0.76 -0.24 L0.52 0 L0.76 0.24Z","size":784,"filled":true,"color":"#C7CBD1","opacity":1},"encoding":{"x":{"datum":1053,"type":"quantitative","scale":{"domain":[0,1260],"nice":false,"zero":false},"axis":null},"y":{"datum":2014,"type":"quantitative","scale":{"domain":[0,2040],"reverse":true,"nice":false,"zero":false},"axis":null}}},
{"data":{"values":[{"label":"@TradeNovaX –"}]},"mark":{"type":"text","font":"Inter","fontSize":24,"color":"#C7CBD1","align":"left","baseline":"alphabetic"},"encoding":{"x":{"datum":1072,"type":"quantitative","scale":{"domain":[0,1260],"nice":false,"zero":false},"axis":null},"y":{"datum":2022.5,"type":"quantitative","scale":{"domain":[0,2040],"reverse":true,"nice":false,"zero":false},"axis":null},"text":{"field":"label"}}}
]}
],"resolve":{"scale":{"x":"independent","y":"independent"}}}
